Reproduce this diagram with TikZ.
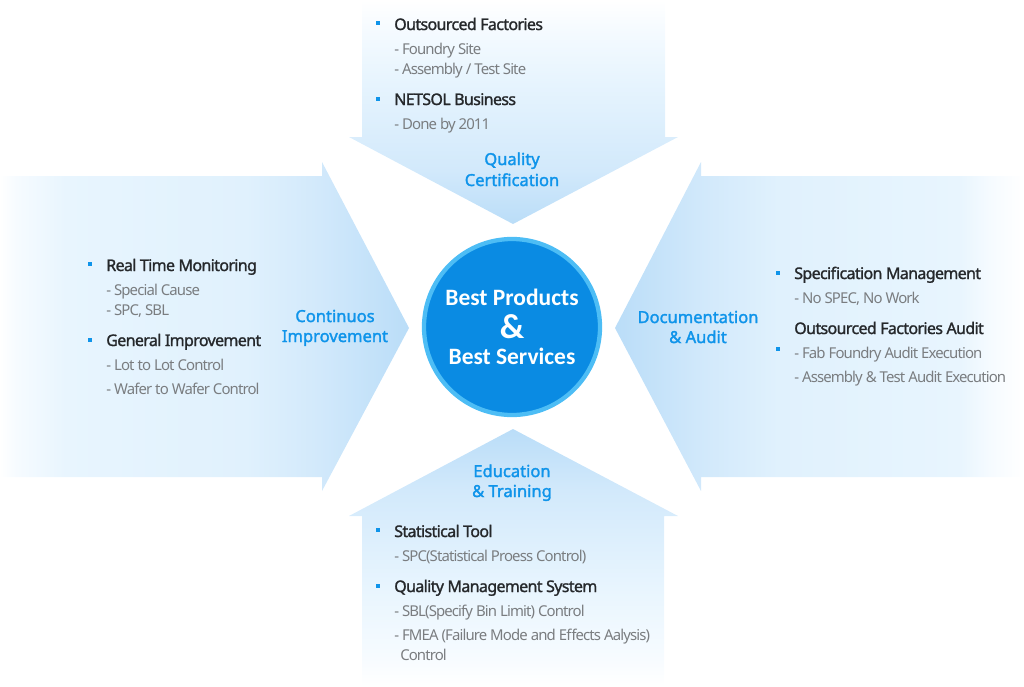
\documentclass[tikz,border=0pt]{standalone}
\usepackage{fontspec}
\setmainfont{Noto Sans}
\newfontfamily\headfont[LetterSpace=-4,FakeBold=1.4]{Noto Sans}
\newfontfamily\subfont[LetterSpace=-5.9]{Noto Sans}
\newfontfamily\tagfont[FakeBold=1.8]{Noto Sans}
\newfontfamily\hubfont{Carlito}
\definecolor{tagblue}{HTML}{0F94EA}
\definecolor{bulletblue}{HTML}{0F94EA}
\definecolor{hubfill}{HTML}{0A8BE3}
\definecolor{hubring}{HTML}{4DBDF5}
\definecolor{headink}{HTML}{25282B}
\definecolor{subink}{HTML}{7A7D80}
\definecolor{sA}{HTML}{BADDF8}
\definecolor{sB}{HTML}{D2E9FB}
\definecolor{sC}{HTML}{E0F1FD}
\definecolor{sD}{HTML}{E8F5FE}
\definecolor{sE}{HTML}{F6FBFF}
% shadings: the path's box is the 25bp..75bp part
\pgfdeclarehorizontalshading{fromleft}{100bp}{color(0bp)=(white); color(25bp)=(white); color(27bp)=(sE); color(33bp)=(sD); color(55bp)=(sC); color(64bp)=(sB); color(75bp)=(sA); color(100bp)=(sA)}
\pgfdeclarehorizontalshading{fromright}{100bp}{color(0bp)=(sA); color(25bp)=(sA); color(36bp)=(sB); color(45bp)=(sC); color(67bp)=(sD); color(71bp)=(sE); color(75bp)=(white); color(100bp)=(white)}
\pgfdeclareverticalshading{fromtop}{100bp}{color(0bp)=(sA); color(25bp)=(sA); color(37bp)=(sB); color(58bp)=(sD); color(69bp)=(sE); color(75bp)=(white); color(100bp)=(white)}
\pgfdeclareverticalshading{frombottom}{100bp}{color(0bp)=(white); color(25bp)=(white); color(31bp)=(sE); color(44bp)=(sD); color(63bp)=(sB); color(75bp)=(sA); color(100bp)=(sA)}
\tikzset{
  headline/.style={anchor=base west,inner sep=0pt,text=headink,font=\headfont\fontsize{12}{14}\selectfont},
  subline/.style={anchor=base west,inner sep=0pt,text=subink,font=\subfont\fontsize{11.2}{14}\selectfont},
  tagline/.style={anchor=base,inner sep=0pt,text=tagblue,font=\tagfont\fontsize{12.4}{15}\selectfont},
  hubline/.style={anchor=base,inner sep=0pt,text=white,font=\hubfont\bfseries\fontsize{17.6}{20}\selectfont},
  bulletdot/.style={draw=none,fill=bulletblue,minimum size=3pt,inner sep=0pt,rectangle},
}
\begin{document}
\begin{tikzpicture}[x=0.75pt,y=-0.75pt]
\useasboundingbox (0,0) rectangle (1024,686);
% arrows
\shade[shading=fromtop,draw=none] (362,0) -- (665,0) -- (665,137) -- (678,137) -- (513,224) -- (349,137) -- (362,137) -- cycle;
\shade[shading=frombottom,draw=none] (513,429) -- (678,516) -- (664,516) -- (664,686) -- (362,686) -- (362,516) -- (349,516) -- cycle;
\shade[shading=fromleft,draw=none] (0,176) -- (322,176) -- (322,162) -- (409,328) -- (322,491) -- (322,477) -- (0,477) -- cycle;
\shade[shading=fromright,draw=none] (615,328) -- (701,162) -- (701,176) -- (1024,176) -- (1024,477) -- (701,477) -- (701,491) -- cycle;
% hub
\node[circle,draw=hubring,fill=hubfill,line width=3.2pt,minimum size=132pt,inner sep=0pt] (hub) at (512,327) {};
\node[hubline] (hubA) at (512,305) {Best Products};
\node[hubline,font=\hubfont\bfseries\fontsize{26}{30}\selectfont] (hubB) at (512,338) {\&};
\node[hubline] (hubC) at (512,364) {Best Services};
% top
\node[tagline] (tagT1) at (512,165) {Quality};
\node[tagline] (tagT2) at (512,186) {Certification};
\node[bulletdot] (bT1) at (378,23) {};
\node[bulletdot] (bT2) at (378,99) {};
\node[headline] (hT1) at (394,30) {Outsourced Factories};
\node[subline] (sT1) at (394,54) {- Foundry Site};
\node[subline] (sT2) at (394,74) {- Assembly / Test Site};
\node[headline] (hT2) at (394,105) {NETSOL Business};
\node[subline] (sT3) at (394,129) {- Done by 2011};
% left
\node[tagline] (tagL1) at (335,322) {Continuos};
\node[tagline] (tagL2) at (335,342) {Improvement};
\node[bulletdot] (bL1) at (90,264) {};
\node[bulletdot] (bL2) at (90,340) {};
\node[headline] (hL1) at (106,271) {Real Time Monitoring};
\node[subline] (sL1) at (106,295) {- Special Cause};
\node[subline] (sL2) at (106,315) {- SPC, SBL};
\node[headline] (hL2) at (106,346) {General Improvement};
\node[subline] (sL3) at (106,370) {- Lot to Lot Control};
\node[subline] (sL4) at (106,394) {- Wafer to Wafer Control};
% right
\node[tagline] (tagR1) at (698,323) {Documentation};
\node[tagline] (tagR2) at (698,343) {\& Audit};
\node[bulletdot] (bR1) at (778,273) {};
\node[bulletdot] (bR2) at (778,349) {};
\node[headline] (hR1) at (794,279) {Specification Management};
\node[subline] (sR1) at (794,303) {- No SPEC, No Work};
\node[headline] (hR2) at (794,334) {Outsourced Factories Audit};
\node[subline] (sR2) at (794,358) {- Fab Foundry Audit Execution};
\node[subline] (sR3) at (794,382) {- Assembly \& Test Audit Execution};
% bottom
\node[tagline] (tagB1) at (512,477) {Education};
\node[tagline] (tagB2) at (512,497) {\& Training};
\node[bulletdot] (bB1) at (378,530) {};
\node[bulletdot] (bB2) at (378,586) {};
\node[headline] (hB1) at (394,537) {Statistical Tool};
\node[subline] (sB1) at (394,561) {- SPC(Statistical Proess Control)};
\node[headline] (hB2) at (394,592) {Quality Management System};
\node[subline] (sB2) at (394,616) {- SBL(Specify Bin Limit) Control};
\node[subline] (sB3) at (394,640) {- FMEA (Failure Mode and Effects Aalysis)};
\node[subline] (sB4) at (400,660) {Control};
\end{tikzpicture}
\end{document}
